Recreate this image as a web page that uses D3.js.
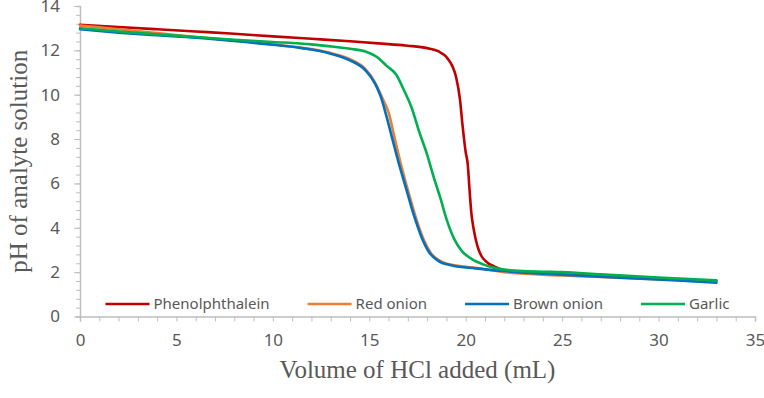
<!DOCTYPE html>
<html>
<head>
<meta charset="utf-8">
<script src="https://cdn.jsdelivr.net/npm/d3@7"></script>
<style>
  body { margin: 0; background: #fff; }
  svg { display: block; }
</style>
</head>
<body>
<div id="chart"></div>
<script>
// readings: [mL HCl, pH]
var phenolphthalein = [[0,13.15],[2,13.05],[4,12.95],[6,12.85],[8,12.75],[10,12.63],[12,12.52],[14,12.41],[16,12.28],[17,12.21],[18,12.1],[18.6,11.95],[19,11.7],[19.3,11.3],[19.5,10.8],[19.7,9.8],[19.85,8.5],[20.0,7.4],[20.1,6.9],[20.2,5.7],[20.3,4.6],[20.4,4.0],[20.6,3.2],[20.8,2.75],[21.1,2.45],[21.5,2.25],[22,2.08],[23,1.98],[25,1.9],[28,1.78],[30,1.7],[33,1.6]]
var redOnion = [[0,13.12],[2,12.95],[4,12.78],[6,12.6],[8,12.45],[10,12.27],[11.5,12.12],[13,11.88],[14,11.6],[14.8,11.15],[15.3,10.55],[15.7,9.8],[16.0,9.2],[16.3,8.1],[16.6,7.0],[17.0,5.7],[17.4,4.5],[17.8,3.5],[18.2,2.85],[18.8,2.45],[19.5,2.3],[20.5,2.2],[22,2.0],[25,1.85],[28,1.75],[31,1.65],[33,1.58]]
var brownOnion = [[0,12.95],[2,12.8],[4,12.68],[6,12.57],[8,12.42],[10,12.25],[11.5,12.1],[13,11.85],[14,11.55],[14.8,11.1],[15.3,10.5],[15.6,9.9],[15.9,9.0],[16.2,8.0],[16.5,7.0],[16.9,5.8],[17.3,4.6],[17.7,3.6],[18.1,2.9],[18.6,2.5],[19.3,2.3],[20.5,2.17],[22,2.05],[25,1.88],[28,1.75],[31,1.62],[33,1.52]]
var garlic = [[0,13.0],[2,12.85],[4,12.72],[6,12.6],[8,12.48],[10,12.38],[12,12.27],[13,12.18],[14,12.07],[14.8,11.95],[15.4,11.7],[15.9,11.3],[16.4,10.9],[16.8,10.2],[17.2,9.4],[17.6,8.3],[18,7.3],[18.3,6.4],[18.7,5.3],[19,4.4],[19.4,3.5],[19.8,2.95],[20.3,2.6],[20.9,2.35],[21.6,2.17],[22.5,2.07],[24,2.02],[25,2.0],[27,1.9],[30,1.76],[33,1.63]]

var seriesNames = ["Phenolphthalein", "Red onion", "Brown onion", "Garlic"]
var seriesColors = ["#c00000", "#ed7d31", "#0070c0", "#00b050"]
var xTicks = [0, 5, 10, 15, 20, 25, 30, 35]
var yTicks = [0, 2, 4, 6, 8, 10, 12, 14]

var W = 764, H = 398
var mLeft = 80, mRight = 755, mTop = 6, mBottom = 316.5
var axisColor = "#bfbfbf", textColor = "#595959"
var sansFont = "'Noto Sans', 'Open Sans', sans-serif"
var serifFont = "'Liberation Serif', 'DejaVu Serif', serif"

var svg = d3.select("#chart").append("svg").attr("width", W).attr("height", H)

var x = d3.scaleLinear().domain([0, 35]).range([mLeft, mRight])
var y = d3.scaleLinear().domain([0, 14]).range([mBottom, mTop])

// minor ticks (1 mL on x, 0.4 on y)
var xMinor = d3.range(0, 35.01, 1)
var yMinor = d3.range(0, 14.01, 0.4)

var xAxis = svg.append("g").attr("transform", "translate(0," + mBottom + ")")
  .call(d3.axisBottom(x).tickValues(xMinor).tickSize(5).tickFormat(""))
var xLab = svg.append("g").attr("transform", "translate(0," + mBottom + ")")
  .call(d3.axisBottom(x).tickValues(xTicks).tickSize(0).tickPadding(17).tickFormat(d3.format("d")))
var yAxis = svg.append("g").attr("transform", "translate(" + mLeft + ",0)")
  .call(d3.axisLeft(y).tickValues(yMinor).tickSize(4).tickFormat(""))
var yLab = svg.append("g").attr("transform", "translate(" + mLeft + ",0)")
  .call(d3.axisLeft(y).tickValues(yTicks).tickSize(6).tickPadding(14).tickFormat(d3.format("d")))

svg.selectAll(".domain").attr("stroke", axisColor).attr("stroke-width", 1.5)
svg.selectAll(".tick line").attr("stroke", axisColor).attr("stroke-width", 1)
xLab.select(".domain").remove()
yLab.select(".domain").remove()
svg.selectAll(".tick text").attr("fill", textColor).style("font-family", sansFont).style("font-size", "17px")

var line = d3.line()
  .x(function (d) { return x(d[0]) })
  .y(function (d) { return y(d[1]) })
  .curve(d3.curveMonotoneX)

var allSeries = [phenolphthalein, redOnion, brownOnion, garlic]
allSeries.forEach(function (s, i) {
  svg.append("path").datum(s)
    .attr("d", line)
    .attr("fill", "none")
    .attr("stroke", seriesColors[i])
    .attr("stroke-width", 2.6)
    .attr("stroke-linejoin", "round")
    .attr("stroke-linecap", "round")
})

// legend inside the plot, centred
var legend = svg.append("g")
var lx = 0
var legendY = 304
seriesNames.forEach(function (name, i) {
  var g = legend.append("g").attr("transform", "translate(" + lx + ",0)")
  g.append("line").attr("x1", 0).attr("x2", 44).attr("y1", legendY).attr("y2", legendY)
    .attr("stroke", seriesColors[i]).attr("stroke-width", 2.6)
  var t = g.append("text").attr("x", 48).attr("y", legendY).attr("dy", "0.35em")
    .attr("fill", textColor).style("font-family", sansFont).style("font-size", "15px")
    .text(name)
  lx += 48 + t.node().getComputedTextLength() + 38
})
lx -= 38
legend.attr("transform", "translate(" + ((mLeft + mRight) / 2 - lx / 2) + ",0)")

svg.append("text")
  .attr("x", (mLeft + mRight) / 2).attr("y", 378)
  .attr("text-anchor", "middle")
  .attr("fill", textColor).style("font-family", serifFont).style("font-size", "25px")
  .text("Volume of HCl added (mL)")

svg.append("text")
  .attr("transform", "translate(27," + ((mTop + mBottom) / 2) + ") rotate(-90)")
  .attr("text-anchor", "middle")
  .attr("fill", textColor).style("font-family", serifFont).style("font-size", "25px")
  .text("pH of analyte solution")
</script>
</body>
</html>
